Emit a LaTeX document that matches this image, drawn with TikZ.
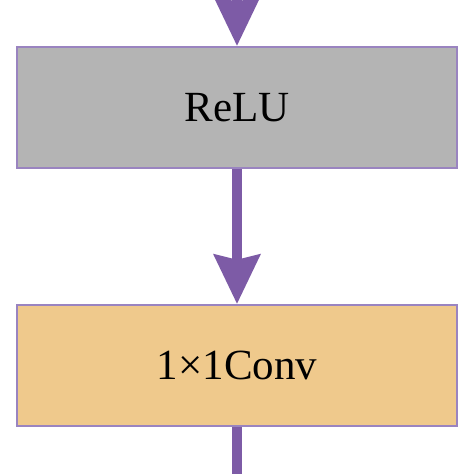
\documentclass[tikz,border=0pt]{standalone}
\usepackage{fontspec}
\setmainfont{Liberation Serif}
\usepackage{xcolor}
\usetikzlibrary{arrows.meta,positioning}

\definecolor{flowpurple}{HTML}{7D5BA6}
\definecolor{boxedge}{HTML}{9A84C0}
\definecolor{relugray}{HTML}{B4B4B4}
\definecolor{convorange}{HTML}{EFC98C}

\tikzset{
    layer/.style={draw=boxedge, line width=2.6pt, minimum width=440pt, minimum height=121pt,
        inner sep=0pt, font=\fontsize{43}{48}\selectfont},
    flow/.style={draw=flowpurple, line width=10pt,
        -{Stealth[length=50pt, width=48pt, inset=6pt, line width=0pt, fill=flowpurple]}}
}

\begin{document}
\begin{tikzpicture}[x=1pt, y=-1pt]
    \useasboundingbox (0,0) rectangle (474,474);
    
    \node[layer, fill=relugray] (relu) at (237,107.5) {ReLU};
    \node[layer, fill=convorange] (conv) at (237,365.5) {1\texttimes1Conv};
    
    \coordinate (in) at (237,-30);
    \coordinate (out) at (237,490);
    
    \draw[flow] (in) -- (relu.north);
    \draw[flow] (relu.south) -- (conv.north);
    \draw[draw=flowpurple, line width=10pt] (conv.south) -- (out);
\end{tikzpicture}
\end{document}
